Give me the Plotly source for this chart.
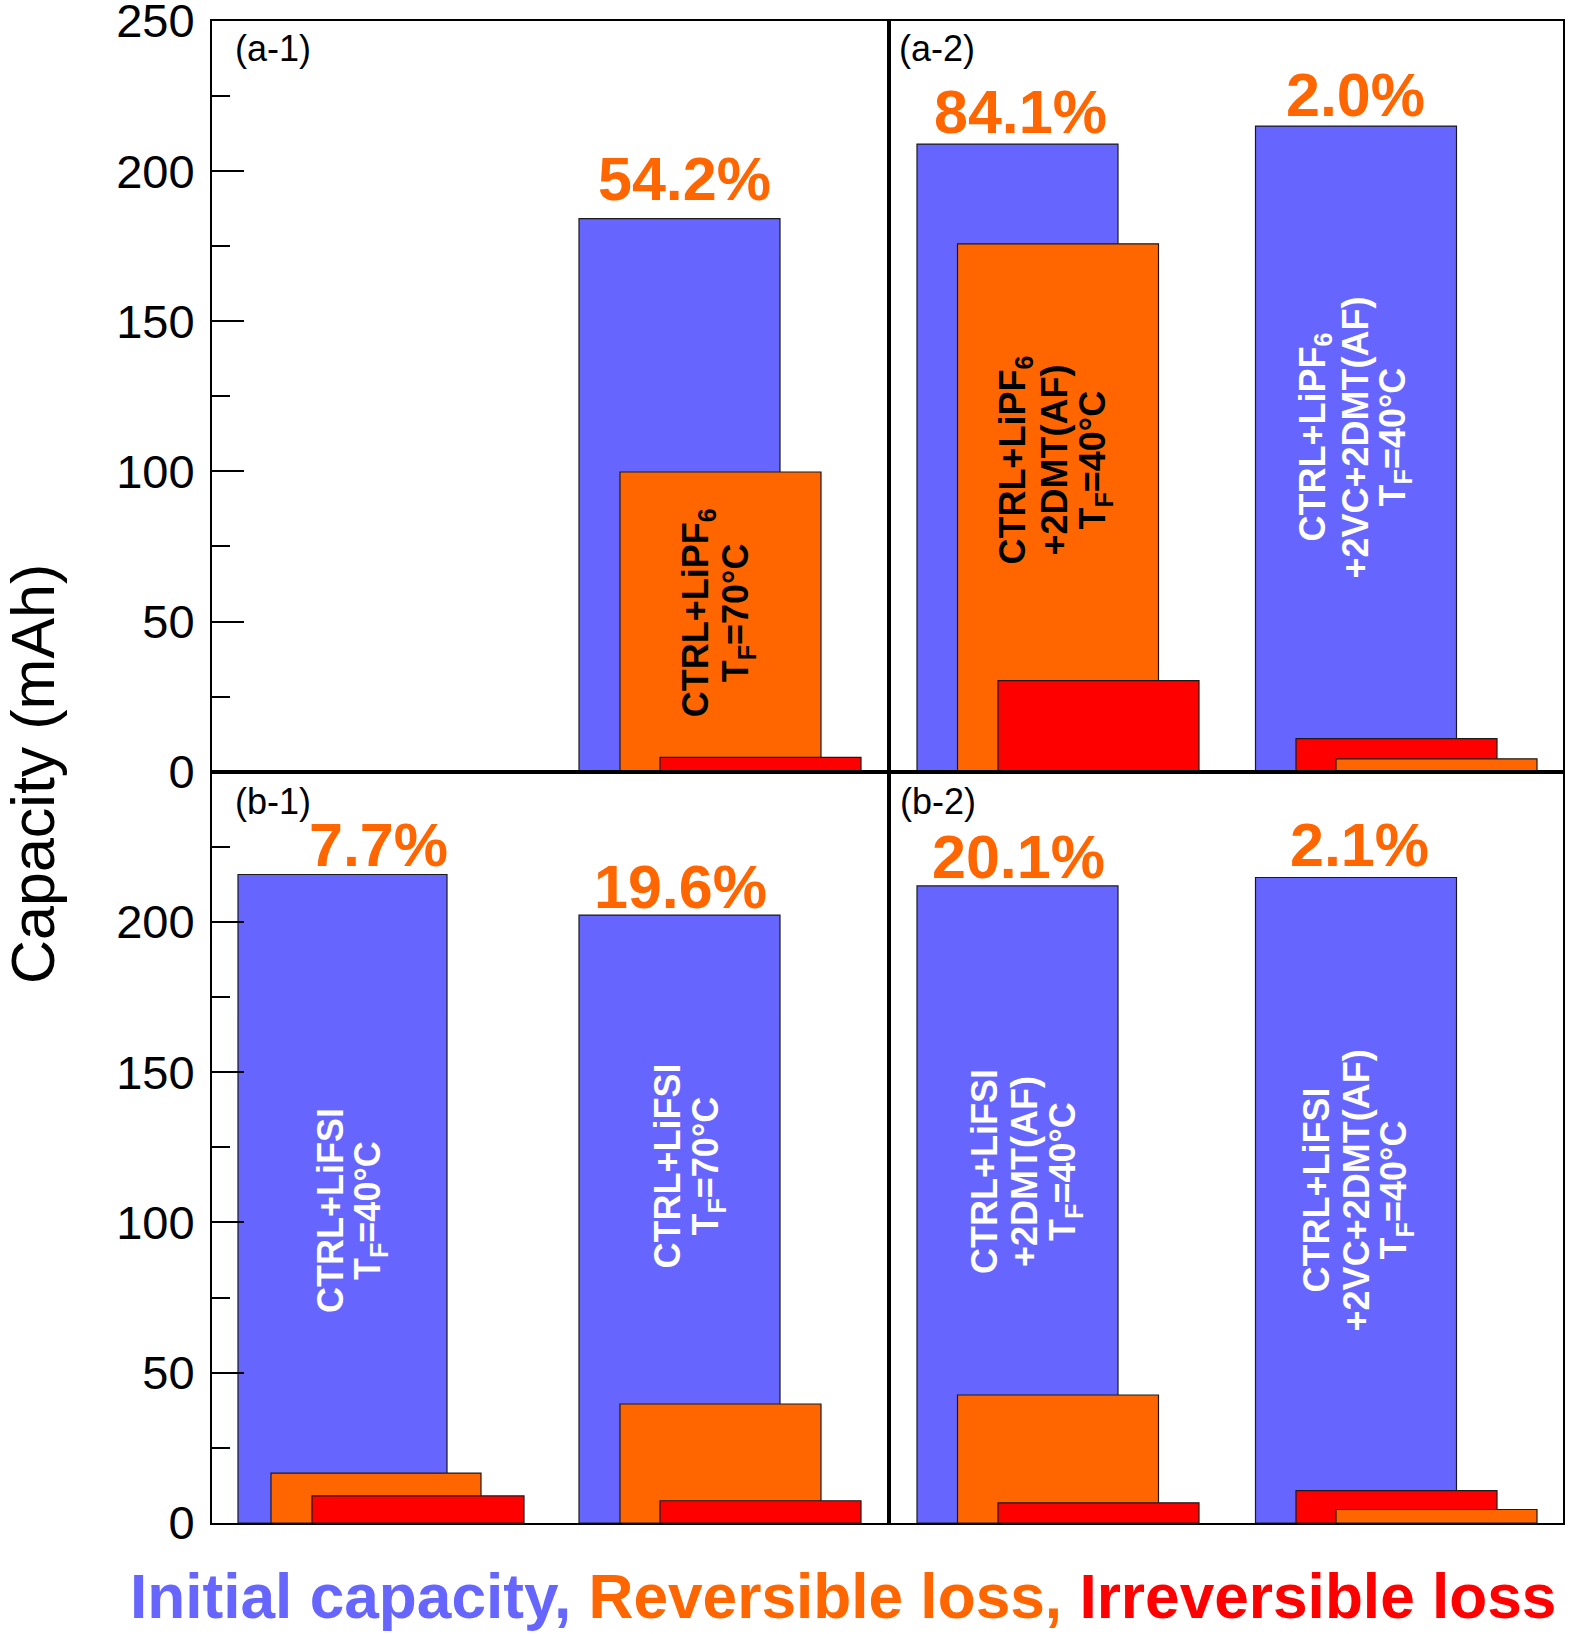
import plotly.graph_objects as go

# ---------------- data ----------------
panel_labels = ["(a-1)", "(a-2)", "(b-1)", "(b-2)"]

a1_initial = [184.2]
a1_reversible = [99.8]
a1_irreversible = [4.8]
a1_loss_pct = ["54.2%"]
a1_samples = [["CTRL+LiPF<sub>6</sub>", "T<sub>F</sub>=70°C"]]

a2_initial = [209.0, 215.0]
a2_reversible = [175.8, 4.3]
a2_irreversible = [30.3, 11.0]
a2_loss_pct = ["84.1%", "2.0%"]
a2_samples = [["CTRL+LiPF<sub>6</sub>", "+2DMT(AF)", "T<sub>F</sub>=40°C"],
              ["CTRL+LiPF<sub>6</sub>", "+2VC+2DMT(AF)", "T<sub>F</sub>=40°C"]]

b1_initial = [215.8, 202.3]
b1_reversible = [16.6, 39.6]
b1_irreversible = [9.0, 7.4]
b1_loss_pct = ["7.7%", "19.6%"]
b1_samples = [["CTRL+LiFSI", "T<sub>F</sub>=40°C"],
              ["CTRL+LiFSI", "T<sub>F</sub>=70°C"]]

b2_initial = [212.0, 214.8]
b2_reversible = [42.6, 4.5]
b2_irreversible = [6.7, 10.8]
b2_loss_pct = ["20.1%", "2.1%"]
b2_samples = [["CTRL+LiFSI", "+2DMT(AF)", "T<sub>F</sub>=40°C"],
              ["CTRL+LiFSI", "+2VC+2DMT(AF)", "T<sub>F</sub>=40°C"]]

y_ticks_top = [0, 50, 100, 150, 200, 250]
y_ticks_bottom = [0, 50, 100, 150, 200]
legend_parts = ["Initial capacity,", "Reversible loss,", "Irreversible loss"]

# ---------------- styles / layout ----------------
BLUE, ORANGE, RED = "#6666FF", "#FF6600", "#FF0000"
FONT = "Liberation Sans, Arial, sans-serif"
W, H = 1570, 1634

# slot geometry (axis units = pixels inside the panel): (center, width)
LEFT_G1 = {"init": (130.5, 209), "rev": (164, 210), "irr": (206, 212)}
LEFT_G2 = {"init": (467.5, 201), "rev": (508.5, 201), "irr": (548.5, 201)}
RIGHT_G1 = {"init": (128.5, 201), "rev": (169, 201), "irr": (209.5, 201)}
RIGHT_G2 = {"init": (467, 201), "irr": (507.5, 201), "rev": (547.5, 201)}

px = lambda v: v / W
py = lambda v: (H - v) / H
x_left = [px(212), px(889)]
x_right = [px(889), px(1563)]
y_top = [py(771.7), py(21)]
y_bot = [py(1523), py(771.7)]

panels = [
    dict(ax="", dx=x_left, dy=y_top, xr=677, init=a1_initial, rev=a1_reversible,
         irr=a1_irreversible, pct=a1_loss_pct, samples=a1_samples, slots=[LEFT_G2],
         pct_off=[(5, 4)], lab=[(505.8, 53, "black")], ticks=y_ticks_top,
         label=panel_labels[0], lab_xy=(233, 26)),
    dict(ax="2", dx=x_right, dy=y_top, xr=674, init=a2_initial, rev=a2_reversible,
         irr=a2_irreversible, pct=a2_loss_pct, samples=a2_samples, slots=[RIGHT_G1, RIGHT_G2],
         pct_off=[(2.5, -4), (-1, -5)], lab=[(166, 103.6, "black"), (466, 111.3, "white")],
         ticks=None, label=panel_labels[1], lab_xy=(897, 26)),
    dict(ax="3", dx=x_left, dy=y_bot, xr=677, init=b1_initial, rev=b1_reversible,
         irr=b1_irreversible, pct=b1_loss_pct, samples=b1_samples, slots=[LEFT_G1, LEFT_G2],
         pct_off=[(36, -7), (1, -8)], lab=[(138.6, 104, "white"), (476, 118.6, "white")],
         ticks=y_ticks_bottom, label=panel_labels[2], lab_xy=(233, 779)),
    dict(ax="4", dx=x_right, dy=y_bot, xr=674, init=b2_initial, rev=b2_reversible,
         irr=b2_irreversible, pct=b2_loss_pct, samples=b2_samples, slots=[RIGHT_G1, RIGHT_G2],
         pct_off=[(1, -7), (3, -4)], lab=[(136, 116.8, "white"), (467.4, 110.8, "white")],
         ticks=None, label=panel_labels[3], lab_xy=(898, 779)),
]

fig = go.Figure()
annotations = []
colors = {"init": BLUE, "rev": ORANGE, "irr": RED}

for p in panels:
    xa, ya = "x" + p["ax"], "y" + p["ax"]
    for g, slot in enumerate(p["slots"]):
        vals = {"init": p["init"][g], "rev": p["rev"][g], "irr": p["irr"][g]}
        for key in sorted(slot, key=lambda k: slot[k][0]):
            c, w = slot[key]
            fig.add_trace(go.Bar(
                x=[c], y=[vals[key]], width=[w], xaxis=xa, yaxis=ya,
                marker=dict(color=colors[key], line=dict(color="#1a1a1a", width=1.2)),
                showlegend=False, hoverinfo="y"))
        # percentage label
        dxo, dyo = p["pct_off"][g]
        annotations.append(dict(
            x=slot["init"][0] + dxo, y=vals["init"], xref=xa, yref=ya,
            text="<b>%s</b>" % p["pct"][g], showarrow=False, xanchor="center",
            yanchor="bottom", yshift=dyo,
            font=dict(family=FONT, size=61, color=ORANGE)))
        # rotated sample label (one annotation per line)
        lx, ly, lc = p["lab"][g]
        lines = p["samples"][g]
        n = len(lines)
        for i, line in enumerate(lines):
            annotations.append(dict(
                x=lx, y=ly, xref=xa, yref=ya, text="<b>%s</b>" % line,
                showarrow=False, textangle=-90, xanchor="center", yanchor="middle",
                xshift=(i - (n - 1) / 2) * 40,
                font=dict(family=FONT, size=36, color=lc)))
    # panel label
    annotations.append(dict(
        x=px(p["lab_xy"][0]), y=py(p["lab_xy"][1]), xref="paper", yref="paper",
        text=p["label"], showarrow=False, xanchor="left", yanchor="top",
        font=dict(family=FONT, size=36, color="black")))

    xkey = "xaxis" + p["ax"]
    ykey = "yaxis" + p["ax"]
    fig.layout[xkey] = dict(domain=p["dx"], range=[0, p["xr"]], anchor=ya,
                            showticklabels=False, ticks="", showgrid=False,
                            zeroline=False, showline=True, mirror=True,
                            linecolor="black", linewidth=2, fixedrange=True,
                            automargin=False)
    yd = dict(domain=p["dy"], range=[0, 250], anchor=xa, showgrid=False,
              zeroline=False, showline=True, mirror=True, linecolor="black",
              linewidth=2, fixedrange=True, automargin=False)
    if p["ticks"] is not None:
        yd.update(tickmode="array", tickvals=p["ticks"],
                  ticktext=[str(t) for t in p["ticks"]],
                  ticks="inside", ticklen=32, tickwidth=2.2, tickcolor="black",
                  ticklabelstandoff=6, ticklabeloverflow="allow",
                  tickfont=dict(family=FONT, size=47, color="black"),
                  minor=dict(ticks="inside", ticklen=18, tickwidth=2.2,
                             tickcolor="black", tickmode="linear", tick0=0, dtick=25))
    else:
        yd.update(showticklabels=False, ticks="")
    fig.layout[ykey] = yd

# y-axis title
annotations.append(dict(
    x=px(33), y=py(774), xref="paper", yref="paper", text="Capacity (mAh)",
    showarrow=False, textangle=-90, xanchor="center", yanchor="middle",
    font=dict(family=FONT, size=61, color="black")))

# colour-coded legend line
legend_text = ('<b><span style="color:%s">%s</span> <span style="color:%s">%s</span> '
               '<span style="color:%s">%s</span></b>' % (BLUE, legend_parts[0], ORANGE,
                                                         legend_parts[1], RED, legend_parts[2]))
annotations.append(dict(
    x=px(128), y=py(1596), xref="paper", yref="paper", text=legend_text,
    showarrow=False, xanchor="left", yanchor="middle",
    font=dict(family=FONT, size=62.2, color="black")))

fig.update_layout(
    width=W, height=H, margin=dict(l=0, r=0, t=0, b=0, autoexpand=False),
    paper_bgcolor="white", plot_bgcolor="white", barmode="overlay",
    annotations=annotations, showlegend=False,
    font=dict(family=FONT, color="black"))

fig.write_html("out.html")
